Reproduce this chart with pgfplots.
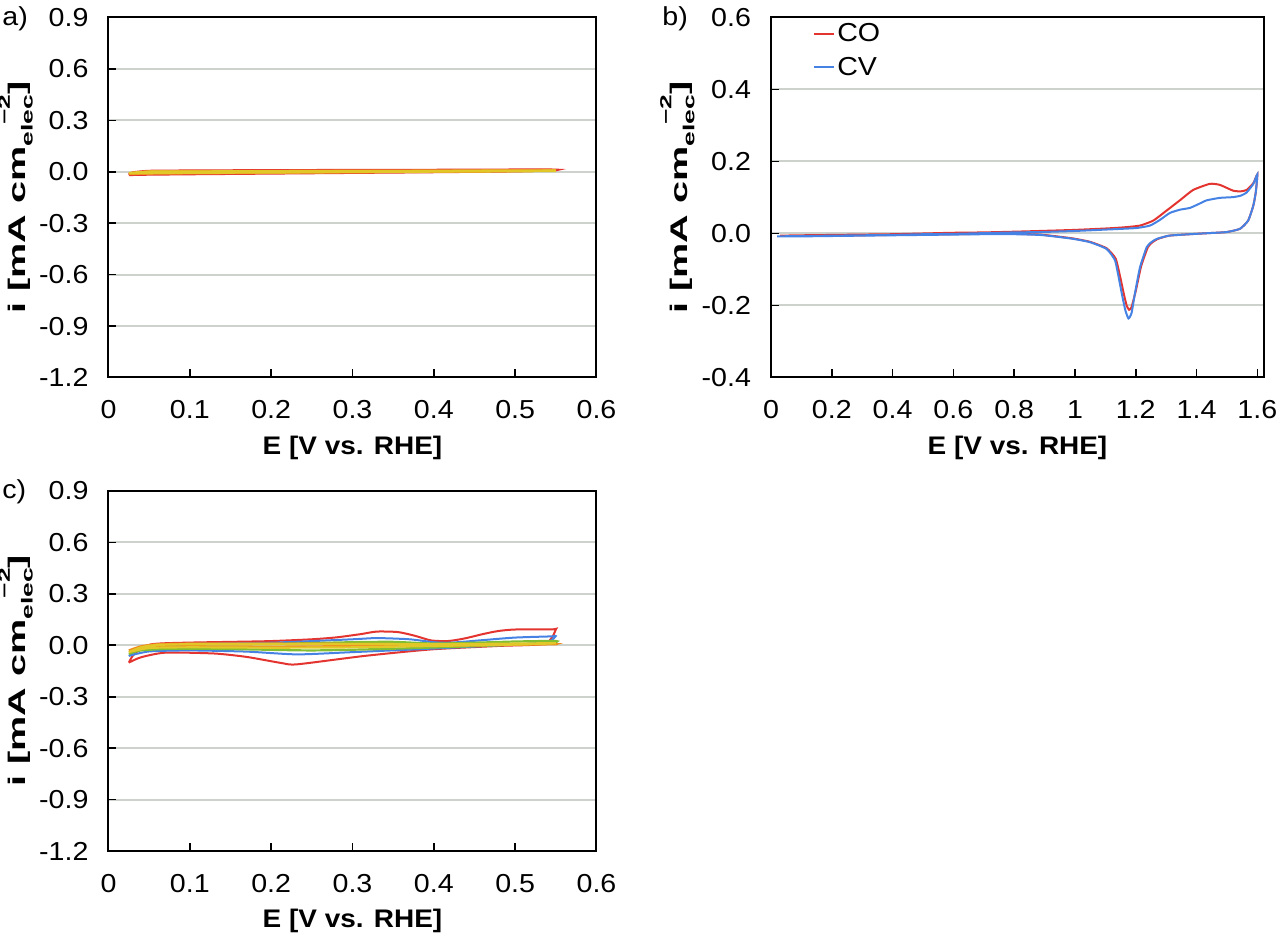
\documentclass[border=0pt]{standalone}
\usepackage{pgfplots}
\pgfplotsset{compat=1.18}
\usepackage{fontspec}
\setmainfont{Liberation Sans}[FakeStretch=1.1]
\usepackage{graphicx}

\definecolor{cvred}{RGB}{228,52,48}
\definecolor{cvblue}{RGB}{70,130,228}
\definecolor{cvorange}{RGB}{240,140,30}
\definecolor{cvyellow}{RGB}{225,200,40}
\definecolor{cvgreen}{RGB}{130,190,50}
\definecolor{gridgray}{RGB}{205,210,205}

% current density label, stretched along its length
\newcommand{\ilabel}{\bfseries\scalebox{1.5}[1]{i [mA cm\raisebox{-0.55ex}{\fontsize{8}{9}\selectfont elec}\llap{\raisebox{1.25ex}{\fontsize{8}{9}\selectfont −2}}]}}

\pgfplotsset{
  cvpanel/.style={
    scale only axis, height=180pt,
    axis line style={line width=1pt},
    ymajorgrids, grid style={line width=1pt, gridgray},
    tick align=inside, xtick pos=bottom, ytick pos=left,
    major tick length=4pt, tick style={black, line width=0.8pt},
    tick label style={font=\fontsize{13}{15}\selectfont},
    yticklabel style={xshift=-6.5pt},
    xticklabel style={yshift=-8pt},
    xlabel style={at={(axis description cs:0.5,-0.195)}, anchor=center,
      font=\bfseries\fontsize{12.7}{15}\selectfont},
    ylabel style={at={(axis description cs:-0.19,0.5)}, anchor=center,
      font=\fontsize{12}{14}\selectfont},
    xlabel={E [V vs. RHE]},
    ylabel={\ilabel},
  },
  lowrange/.style={
    width=244pt, xmin=0, xmax=0.6, ymin=-1.2, ymax=0.9,
    xtick={0,0.1,0.2,0.3,0.4,0.5,0.6},
    xticklabels={0,0.1,0.2,0.3,0.4,0.5,0.6},
    ytick={-1.2,-0.9,-0.6,-0.3,0,0.3,0.6,0.9},
    yticklabels={-1.2,-0.9,-0.6,-0.3,0.0,0.3,0.6,0.9},
  },
}

\begin{document}
\begin{tikzpicture}
\path[use as bounding box] (0,0) rectangle (640pt,468pt);

% a) narrow window
\begin{axis}[cvpanel, lowrange, at={(54.25pt,279.25pt)}, anchor=south west]
\addplot[cvred, line width=1.3pt, smooth, tension=0.4] coordinates {
(0.025,-0.018)(0.04,-0.016)(0.1,-0.013)(0.2,-0.009)(0.3,-0.005)(0.4,-0.001)(0.5,0.004)(0.55,0.010)
(0.53,0.012)(0.4,0.010)(0.3,0.009)(0.2,0.008)(0.1,0.006)(0.05,0.004)(0.03,-0.005)(0.025,-0.018)};
\addplot[cvorange, line width=1.3pt, smooth, tension=0.4] coordinates {
(0.025,-0.012)(0.05,-0.010)(0.1,-0.008)(0.2,-0.005)(0.3,-0.002)(0.4,0.001)(0.5,0.005)(0.55,0.009)
(0.5,0.008)(0.4,0.006)(0.3,0.005)(0.2,0.004)(0.1,0.003)(0.05,0.001)(0.025,-0.012)};
\addplot[cvyellow, line width=1.3pt, smooth, tension=0.4] coordinates {
(0.025,-0.008)(0.05,-0.006)(0.1,-0.005)(0.2,-0.003)(0.3,0.000)(0.4,0.002)(0.5,0.004)(0.55,0.006)
(0.5,0.005)(0.4,0.004)(0.3,0.003)(0.2,0.002)(0.1,0.001)(0.05,0.000)(0.025,-0.008)};
\end{axis}

% b) CO stripping and blank CV
\begin{axis}[cvpanel, at={(385.5pt,279.25pt)}, anchor=south west,
  width=246.5pt, xmin=0, xmax=1.622, ymin=-0.4, ymax=0.6,
  xtick={0,0.2,0.4,0.6,0.8,1,1.2,1.4,1.6},
  xticklabels={0,0.2,0.4,0.6,0.8,1,1.2,1.4,1.6},
  ytick={-0.4,-0.2,0,0.2,0.4,0.6},
  yticklabels={-0.4,-0.2,0.0,0.2,0.4,0.6},
  legend style={at={(axis description cs:0.085,0.995)}, anchor=north west,
    draw=none, fill=none, inner sep=0pt, row sep=2pt,
    font=\fontsize{13}{15}\selectfont,
    nodes={inner xsep=1pt, inner ysep=2pt}},
  legend cell align=left,
  legend image code/.code={\draw[#1] (0pt,0pt) -- (10pt,0pt);},
]
\addplot[cvred, line width=1pt, smooth, tension=0.3] coordinates {
(0.03,-0.006)(0.1,-0.005)(0.2,-0.004)(0.3,-0.003)(0.4,-0.002)(0.5,0.000)(0.6,0.002)(0.7,0.003)
(0.8,0.005)(0.885,0.007)(1.0,0.010)(1.104,0.014)(1.16,0.017)(1.214,0.022)(1.258,0.036)(1.302,0.064)
(1.345,0.092)(1.389,0.121)(1.444,0.138)(1.477,0.135)(1.52,0.119)(1.545,0.117)(1.565,0.121)(1.587,0.140)
(1.60,0.164)(1.595,0.115)(1.587,0.078)(1.57,0.036)(1.543,0.013)(1.499,0.004)(1.44,0.001)(1.378,-0.002)
(1.31,-0.006)(1.273,-0.015)(1.254,-0.025)(1.24,-0.038)(1.218,-0.090)(1.200,-0.160)(1.186,-0.205)
(1.178,-0.212)(1.17,-0.200)(1.16,-0.165)(1.15,-0.125)(1.134,-0.070)(1.104,-0.041)(1.049,-0.023)
(0.995,-0.014)(0.94,-0.008)(0.885,-0.003)(0.8,-0.001)(0.7,-0.001)(0.6,-0.002)(0.5,-0.003)(0.4,-0.004)
(0.3,-0.005)(0.2,-0.006)(0.1,-0.006)(0.03,-0.006)};
\addlegendentry{CO}
\addplot[cvblue, line width=1pt, smooth, tension=0.3] coordinates {
(0.02,-0.008)(0.1,-0.007)(0.2,-0.006)(0.3,-0.005)(0.4,-0.004)(0.5,-0.002)(0.6,-0.001)(0.7,0.001)
(0.8,0.003)(0.885,0.004)(1.0,0.007)(1.104,0.011)(1.2,0.015)(1.247,0.022)(1.28,0.038)(1.312,0.057)
(1.345,0.066)(1.378,0.071)(1.405,0.081)(1.433,0.092)(1.477,0.099)(1.52,0.101)(1.545,0.105)(1.565,0.114)
(1.587,0.138)(1.60,0.164)(1.595,0.115)(1.587,0.078)(1.57,0.036)(1.543,0.013)(1.499,0.004)(1.44,0.001)
(1.378,-0.002)(1.31,-0.006)(1.269,-0.015)(1.25,-0.025)(1.236,-0.038)(1.214,-0.094)(1.197,-0.168)
(1.186,-0.222)(1.176,-0.236)(1.166,-0.214)(1.156,-0.175)(1.148,-0.14)(1.132,-0.075)(1.104,-0.043)
(1.049,-0.024)(0.995,-0.015)(0.94,-0.009)(0.885,-0.004)(0.8,-0.002)(0.7,-0.002)(0.6,-0.003)(0.5,-0.004)
(0.4,-0.005)(0.3,-0.006)(0.2,-0.007)(0.1,-0.008)(0.02,-0.008)};
\addlegendentry{CV}
\end{axis}

% c) repeated cycles in the narrow window
\begin{axis}[cvpanel, lowrange, at={(54.25pt,42.5pt)}, anchor=south west]
\addplot[cvred, line width=1pt, smooth, tension=0.4] coordinates {
(0.025,-0.101)(0.03,-0.06)(0.04,-0.02)(0.052,0.005)(0.07,0.012)(0.113,0.017)(0.196,0.024)(0.25,0.035)
(0.28,0.046)(0.31,0.065)(0.33,0.080)(0.356,0.077)(0.377,0.055)(0.397,0.028)(0.418,0.025)(0.438,0.040)
(0.46,0.065)(0.479,0.083)(0.5,0.092)(0.546,0.093)(0.55,0.092)(0.537,0.010)(0.479,-0.004)(0.397,-0.024)
(0.315,-0.062)(0.232,-0.111)(0.212,-0.103)(0.17,-0.068)(0.13,-0.048)(0.07,-0.043)(0.04,-0.070)(0.025,-0.101)};
\addplot[cvblue, line width=1pt, smooth, tension=0.4] coordinates {
(0.025,-0.062)(0.035,-0.030)(0.052,-0.002)(0.1,0.008)(0.2,0.015)(0.3,0.035)(0.33,0.042)(0.37,0.035)
(0.4,0.018)(0.42,0.015)(0.46,0.030)(0.5,0.045)(0.545,0.052)(0.55,0.054)(0.54,0.020)(0.5,0.005)
(0.4,-0.019)(0.3,-0.040)(0.232,-0.053)(0.17,-0.037)(0.1,-0.030)(0.05,-0.036)(0.025,-0.062)};
\addplot[cvgreen, line width=1.1pt, smooth, tension=0.4] coordinates {
(0.025,-0.050)(0.04,-0.020)(0.06,0.000)(0.1,0.005)(0.2,0.008)(0.3,0.018)(0.35,0.020)(0.4,0.010)
(0.45,0.015)(0.5,0.022)(0.55,0.025)(0.54,0.012)(0.45,-0.005)(0.35,-0.020)(0.25,-0.030)(0.15,-0.022)
(0.08,-0.020)(0.04,-0.030)(0.025,-0.050)};
\addplot[cvorange, line width=1.1pt, smooth, tension=0.4] coordinates {
(0.025,-0.030)(0.04,-0.006)(0.06,0.006)(0.1,0.010)(0.2,0.010)(0.3,0.008)(0.4,0.006)(0.5,0.006)
(0.55,0.006)(0.45,0.000)(0.3,-0.005)(0.2,-0.008)(0.1,-0.006)(0.05,-0.010)(0.025,-0.030)};
\addplot[cvyellow, line width=1.1pt, smooth, tension=0.4] coordinates {
(0.025,-0.040)(0.04,-0.012)(0.06,0.002)(0.1,0.006)(0.2,0.006)(0.3,0.008)(0.4,0.006)(0.5,0.010)
(0.55,0.012)(0.5,0.004)(0.4,-0.004)(0.3,-0.012)(0.2,-0.014)(0.1,-0.012)(0.05,-0.016)(0.025,-0.040)};
\end{axis}

% panel letters
\node[anchor=base west, inner sep=0pt, font=\fontsize{13}{15}\selectfont] at (1pt,455pt) {a)};
\node[anchor=base west, inner sep=0pt, font=\fontsize{13}{15}\selectfont] at (331pt,455pt) {b)};
\node[anchor=base west, inner sep=0pt, font=\fontsize{13}{15}\selectfont] at (1pt,218.5pt) {c)};
\end{tikzpicture}
\end{document}
